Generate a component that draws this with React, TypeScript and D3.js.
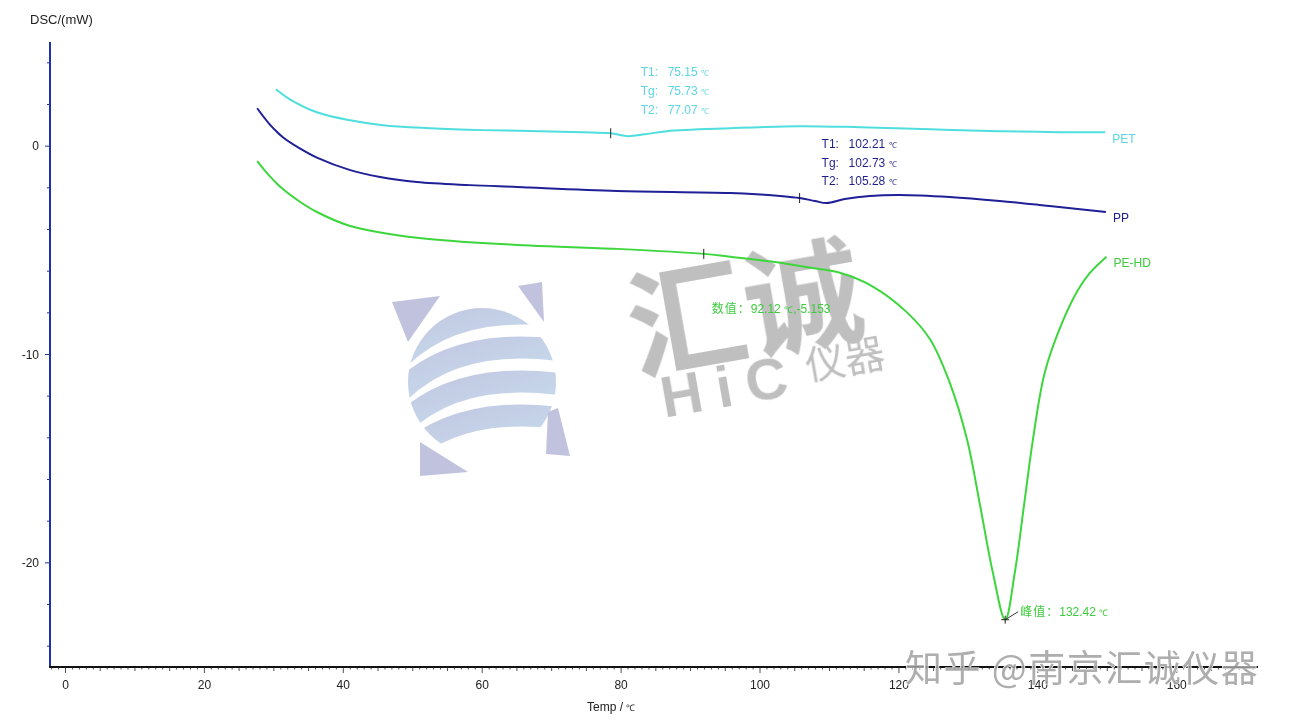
import { useEffect, useRef } from "react";
import * as d3 from "d3";

// DSC curves (temperature in °C, heat flow in mW)
const petTemp = [30.3, 32.3, 36.2, 41.0, 45.7, 52.5, 60.1, 68.3, 74.5, 78.5, 81.0, 83.4, 86.6, 95.7, 105.7, 114.4, 124.5, 134.5, 143.2, 149.7];
const petDsc = [2.73, 2.25, 1.63, 1.24, 1.0, 0.86, 0.77, 0.72, 0.67, 0.62, 0.48, 0.57, 0.72, 0.86, 0.96, 0.91, 0.81, 0.72, 0.67, 0.67];

const ppTemp = [27.6, 29.4, 31.3, 33.8, 36.2, 41.0, 45.3, 50.6, 58.2, 65.0, 79.4, 95.7, 102.9, 105.7, 107.9, 109.6, 112.2, 115.8, 120.1, 127.3, 134.5, 141.7, 149.8];
const ppDsc = [1.82, 1.05, 0.43, -0.12, -0.55, -1.15, -1.48, -1.72, -1.87, -1.96, -2.15, -2.25, -2.39, -2.49, -2.63, -2.73, -2.54, -2.39, -2.34, -2.44, -2.63, -2.87, -3.16];

const peTemp = [27.6, 29.4, 31.3, 33.8, 36.2, 41.0, 50.6, 65.0, 79.4, 91.9, 95.7, 102.9, 107.5, 111.5, 116.3, 121.2, 124.5, 127.3, 129.8, 131.7, 133.5, 135.3, 136.7, 138.0, 139.3, 141.0, 143.5, 145.8, 147.5, 149.9];
const peDsc = [-0.72, -1.44, -2.06, -2.68, -3.16, -3.83, -4.4, -4.74, -4.93, -5.17, -5.31, -5.6, -5.85, -6.08, -6.75, -7.99, -9.28, -11.34, -14.07, -17.27, -20.43, -22.73, -20.43, -17.27, -14.07, -10.86, -8.47, -6.89, -6.08, -5.31];

const seriesNames = ["PET", "PP", "PE-HD"];
const seriesColors = ["#4fdede", "#1f1f96", "#3dd63d"];
const labelColors = ["#5ad6e4", "#1f1f8c", "#3ccc3c"];

const xTickLabels = [0, 20, 40, 60, 80, 100, 120, 140, 160];
const yTickLabels = [0, -10, -20];

// glass transition / peak annotations
const petMarkT = 78.5;
const petLines = [["T1:", "75.15"], ["Tg:", "75.73"], ["T2:", "77.07"]];
const ppMarkT = 105.7;
const ppLines = [["T1:", "102.21"], ["Tg:", "102.73"], ["T2:", "105.28"]];
const peMarkT = 91.9;
const peText = ["数值：", "92.12 ", "℃", ",-5.153"];
const peakT = 135.3;
const peakText = ["峰值：", "132.42 ", "℃"];

const FONT = "'Liberation Sans', Arial, sans-serif";
const CJK = "'Noto Sans CJK SC', sans-serif";

export default function App() {
  const svgRef = useRef<SVGSVGElement>(null);

  useEffect(() => {
    if (!svgRef.current) return;
    const svg = d3.select(svgRef.current);
    svg.selectAll("*").remove();

    const x = d3.scaleLinear().domain([-2.23, 171.7]).range([50, 1258]);
    const y = d3.scaleLinear().domain([5, -25]).range([42, 667]);

    svg.append("rect").attr("width", 1291).attr("height", 721).attr("fill", "#fff");

    // watermark logo
    const defs = svg.append("defs");
    defs.append("clipPath").attr("id", "logoClip").append("circle").attr("r", 74);
    const grad = defs.append("linearGradient").attr("id", "logoGrad")
      .attr("x1", "0").attr("y1", "0").attr("x2", "1").attr("y2", "1");
    grad.append("stop").attr("offset", "0").attr("stop-color", "#b3b9da");
    grad.append("stop").attr("offset", "1").attr("stop-color", "#bcdcee");

    const wm = svg.append("g").attr("opacity", 0.8);
    const logo = wm.append("g").attr("transform", "translate(482,382)");
    const bands = logo.append("g").attr("clip-path", "url(#logoClip)");
    [-50, -16, 18, 52].forEach((o) => {
      bands.append("path")
        .attr("d", `M -90 ${o + 34} Q -30 ${o - 34} 90 ${o - 14}`)
        .attr("fill", "none")
        .attr("stroke", "url(#logoGrad)")
        .attr("stroke-width", 22);
    });
    const tri = [
      "M -90 -80 L -42 -86 L -74 -40 Z",
      "M 36 -96 L 60 -100 L 62 -60 Z",
      "M -62 60 L -14 90 L -62 94 Z",
      "M 66 30 L 76 26 L 88 74 L 64 72 Z",
    ];
    tri.forEach((d) => logo.append("path").attr("d", d).attr("fill", "#b2b3d6"));

    const wmText = wm.append("g").attr("transform", "translate(636,372) rotate(-10)")
      .attr("fill", "#b0b0b0").attr("font-family", CJK);
    wmText.append("text").attr("x", 0).attr("y", 0).attr("font-size", 118).attr("font-weight", 700).text("汇诚");
    wmText.append("text").attr("x", 20).attr("y", 50).attr("font-size", 58).attr("font-weight", 700)
      .attr("font-family", FONT).attr("letter-spacing", 14).text("HiC");
    wmText.append("text").attr("x", 168).attr("y", 38).attr("font-size", 40).text("仪器");

    // y axis
    const axisBlue = "#1d33a8";
    svg.append("line").attr("x1", 50).attr("x2", 50).attr("y1", 42).attr("y2", 667)
      .attr("stroke", axisBlue).attr("stroke-width", 2);
    d3.range(-24, 5, 2).forEach((v) => {
      const major = v % 10 === 0;
      svg.append("line").attr("x1", 50).attr("x2", major ? 45 : 47)
        .attr("y1", y(v)).attr("y2", y(v)).attr("stroke", axisBlue).attr("stroke-width", 1);
    });
    yTickLabels.forEach((v) => {
      svg.append("text").attr("x", 39).attr("y", y(v) + 4).attr("text-anchor", "end")
        .attr("font-family", FONT).attr("font-size", 12).attr("fill", "#222").text(v);
    });
    svg.append("text").attr("x", 30).attr("y", 24).attr("font-family", FONT).attr("font-size", 13)
      .attr("fill", "#222").text("DSC/(mW)");

    // x axis
    svg.append("line").attr("x1", 49).attr("x2", 1258).attr("y1", 667).attr("y2", 667)
      .attr("stroke", "#111").attr("stroke-width", 2);
    d3.range(-2, 172, 1).forEach((t) => {
      const len = t % 20 === 0 ? 6 : t % 5 === 0 ? 4 : 2.5;
      svg.append("line").attr("x1", x(t)).attr("x2", x(t)).attr("y1", 667).attr("y2", 667 + len)
        .attr("stroke", "#222").attr("stroke-width", 0.8);
    });
    xTickLabels.forEach((t) => {
      svg.append("text").attr("x", x(t)).attr("y", 689).attr("text-anchor", "middle")
        .attr("font-family", FONT).attr("font-size", 12).attr("fill", "#222").text(t);
    });
    svg.append("text").attr("x", 587).attr("y", 711).attr("font-family", FONT).attr("font-size", 12)
      .attr("fill", "#222").text("Temp / ").append("tspan").attr("font-size", 9).text("℃");

    // curves
    const line = d3.line<[number, number]>()
      .x((d) => x(d[0]))
      .y((d) => y(d[1]))
      .curve(d3.curveCatmullRom.alpha(0.5));
    const series: [number, number][][] = [
      petTemp.map((t, i) => [t, petDsc[i]]),
      ppTemp.map((t, i) => [t, ppDsc[i]]),
      peTemp.map((t, i) => [t, peDsc[i]]),
    ];
    series.forEach((pts, i) => {
      svg.append("path").datum(pts).attr("fill", "none")
        .attr("stroke", seriesColors[i]).attr("stroke-width", 2).attr("d", line);
      const last = pts[pts.length - 1];
      svg.append("text").attr("x", x(last[0]) + 7).attr("y", y(last[1]) + (i === 0 ? 11 : 10))
        .attr("font-family", FONT).attr("font-size", 12).attr("fill", labelColors[i]).text(seriesNames[i]);
    });

    const valueAt = (pts: [number, number][], t: number) => {
      const p = pts.find((d) => d[0] === t);
      return p ? p[1] : 0;
    };

    // marker ticks
    const marks: [number, number][] = [
      [petMarkT, valueAt(series[0], petMarkT)],
      [ppMarkT, valueAt(series[1], ppMarkT)],
      [peMarkT, valueAt(series[2], peMarkT)],
    ];
    marks.forEach(([t, v]) => {
      svg.append("line").attr("x1", x(t)).attr("x2", x(t)).attr("y1", y(v) - 5).attr("y2", y(v) + 5)
        .attr("stroke", "#222").attr("stroke-width", 1);
    });

    const block = (lines: string[][], x0: number, y0: number, color: string) => {
      lines.forEach(([k, v], i) => {
        const tx = svg.append("text").attr("y", y0 + i * 18.7).attr("font-family", FONT)
          .attr("font-size", 12).attr("fill", color);
        tx.append("tspan").attr("x", x0).text(k);
        tx.append("tspan").attr("x", x0 + 27).text(v + " ");
        tx.append("tspan").attr("font-size", 8).text("℃");
      });
    };
    block(petLines, x(petMarkT) + 30, y(marks[0][1]) - 57, labelColors[0]);
    block(ppLines, x(ppMarkT) + 22, y(marks[1][1]) - 50, labelColors[1]);

    // mixed CJK / latin annotation text
    const mixed = (parts: string[], x0: number, y0: number) => {
      const tx = svg.append("text").attr("x", x0).attr("y", y0).attr("font-family", FONT)
        .attr("font-size", 12).attr("fill", labelColors[2]);
      parts.forEach((p, i) => {
        const s = tx.append("tspan").text(p);
        if (i === 0) s.attr("font-family", CJK).attr("letter-spacing", 1);
        if (p === "℃") s.attr("font-size", 9);
      });
    };
    mixed(peText, x(peMarkT) + 8, y(marks[2][1]) + 59);

    // peak
    const peakV = valueAt(series[2], peakT);
    const px = x(peakT), py = y(peakV);
    svg.append("path").attr("d", `M ${px - 4} ${py} H ${px + 4} M ${px} ${py - 4} V ${py + 4}`)
      .attr("stroke", "#222").attr("stroke-width", 1);
    svg.append("line").attr("x1", px).attr("y1", py).attr("x2", px + 13).attr("y2", py - 8)
      .attr("stroke", "#333").attr("stroke-width", 1);
    mixed(peakText, px + 15, py - 4);

    // site watermark
    svg.append("text").attr("x", 905).attr("y", 682)
      .attr("font-family", CJK).attr("font-size", 37).attr("letter-spacing", 1.5)
      .attr("fill", "#a0a0a0").attr("fill-opacity", 0.85)
      .attr("stroke", "#fff").attr("stroke-width", 1.2).attr("paint-order", "stroke")
      .text("知乎 @南京汇诚仪器");
  }, []);

  return (
    <svg
      ref={svgRef}
      width={1291}
      height={721}
      style={{ position: "absolute", left: 0, top: 0 }}
    />
  );
}
